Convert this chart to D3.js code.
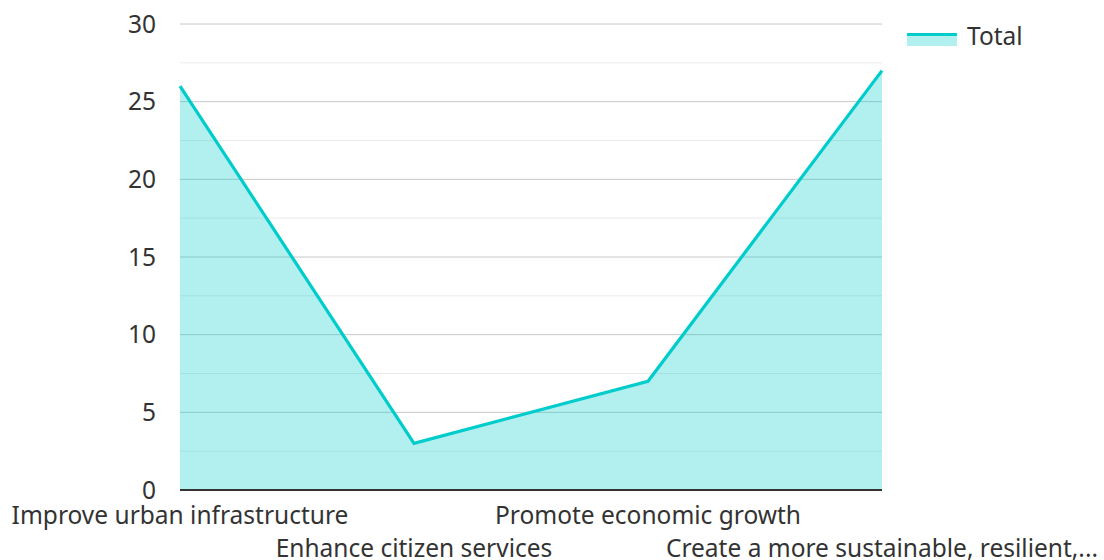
<!DOCTYPE html>
<html>
<head>
<meta charset="utf-8">
<script src="https://cdn.jsdelivr.net/npm/d3@7"></script>
<style>
  body { margin: 0; background: #fff; }
  svg { display: block; font-family: "Noto Sans", sans-serif; }
</style>
</head>
<body>
<svg></svg>
<script>
// data
const categories = [
    "Improve urban infrastructure",
    "Enhance citizen services",
    "Promote economic growth",
    "Create a more sustainable, resilient,..."
];
const totals = [26, 3, 7, 27];
const yTicks = [0, 5, 10, 15, 20, 25, 30];
const minorTicks = [2.5, 7.5, 12.5, 17.5, 22.5, 27.5];
const seriesName = "Total";

const width = 1104;
const height = 560;
const lineColor = "#00cccc";
const fontSize = "24.5px";

const svg = d3.select("svg")
    .attr("width", width)
    .attr("height", height);

const x = d3.scalePoint()
    .domain(categories)
    .range([180, 882]);

const y = d3.scaleLinear()
    .domain([0, 30])
    .range([490, 24]);

const data = categories.map((c, i) => ({ cat: c, value: totals[i] }));

// minor gridlines
svg.append("g")
    .selectAll("line")
    .data(minorTicks)
    .enter()
    .append("line")
    .attr("x1", 180)
    .attr("x2", 882)
    .attr("y1", d => y(d))
    .attr("y2", d => y(d))
    .attr("stroke", "#ebebeb")
    .attr("stroke-width", 1);

// major gridlines
svg.append("g")
    .selectAll("line")
    .data(yTicks.filter(d => d > 0))
    .enter()
    .append("line")
    .attr("x1", 180)
    .attr("x2", 882)
    .attr("y1", d => y(d))
    .attr("y2", d => y(d))
    .attr("stroke", "#c8c8c8")
    .attr("stroke-width", 1);

// area
const area = d3.area()
    .x(d => x(d.cat))
    .y0(y(0))
    .y1(d => y(d.value));

svg.append("path")
    .datum(data)
    .attr("d", area)
    .attr("fill", lineColor)
    .attr("fill-opacity", 0.3);

// line
const line = d3.line()
    .x(d => x(d.cat))
    .y(d => y(d.value));

svg.append("path")
    .datum(data)
    .attr("d", line)
    .attr("fill", "none")
    .attr("stroke", lineColor)
    .attr("stroke-width", 3.2);

// baseline
svg.append("line")
    .attr("x1", 180)
    .attr("x2", 882)
    .attr("y1", y(0))
    .attr("y2", y(0))
    .attr("stroke", "#333")
    .attr("stroke-width", 2);

// y labels
svg.append("g")
    .selectAll("text")
    .data(yTicks)
    .enter()
    .append("text")
    .attr("x", 156)
    .attr("y", d => y(d))
    .attr("dy", "0.35em")
    .attr("text-anchor", "end")
    .attr("font-size", fontSize)
    .attr("fill", "#333")
    .text(d => d);

// x labels, staggered
svg.append("g")
    .selectAll("text")
    .data(categories)
    .enter()
    .append("text")
    .attr("x", d => x(d))
    .attr("y", (d, i) => i % 2 === 0 ? 524 : 557)
    .attr("text-anchor", "middle")
    .attr("font-size", fontSize)
    .attr("fill", "#333")
    .text(d => d);

// legend
const leg = svg.append("g").attr("transform", "translate(907, 33)");
leg.append("rect")
    .attr("x", 0)
    .attr("y", 0)
    .attr("width", 50)
    .attr("height", 13)
    .attr("fill", lineColor)
    .attr("fill-opacity", 0.3);
leg.append("line")
    .attr("x1", 0)
    .attr("x2", 50)
    .attr("y1", 1.5)
    .attr("y2", 1.5)
    .attr("stroke", lineColor)
    .attr("stroke-width", 3);
leg.append("text")
    .attr("x", 60)
    .attr("y", 3)
    .attr("dy", "0.35em")
    .attr("font-size", fontSize)
    .attr("fill", "#333")
    .text(seriesName);
</script>
</body>
</html>
